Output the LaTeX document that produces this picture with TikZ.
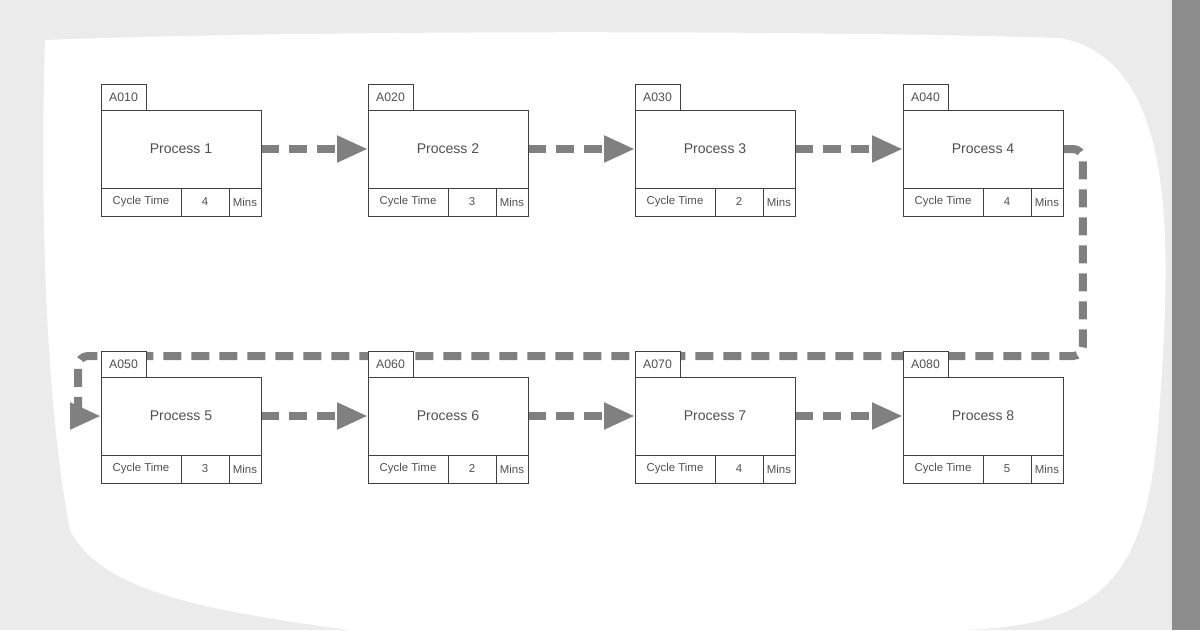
\documentclass[tikz,border=0pt]{standalone}
\usepackage{fontspec}
\setmainfont{Liberation Sans}
\usetikzlibrary{positioning,arrows.meta,backgrounds}
\definecolor{linkgray}{HTML}{808080}
\definecolor{txtgray}{HTML}{505050}
\tikzset{
  mainbox/.style={draw=black!75,fill=white,minimum width=3.2cm,minimum height=1.56cm,inner sep=0pt,outer sep=0pt,font=\fontsize{8}{10}\selectfont,text=txtgray},
  tagbox/.style={draw=black!75,fill=white,minimum width=0.9cm,minimum height=0.52cm,inner sep=0pt,outer sep=0pt,anchor=south west,font=\fontsize{7}{8}\selectfont,text=txtgray},
  cellbox/.style={draw=black!75,fill=white,minimum height=0.56cm,inner sep=0pt,outer sep=0pt,anchor=north west,font=\fontsize{6.5}{8}\selectfont,text=txtgray},
  flow/.style={draw=linkgray,line width=0.16cm,dash pattern=on 0.36cm off 0.2cm,-{Triangle[length=0.62cm,width=0.5cm]}}
}
\begin{document}
\begin{tikzpicture}[x=0.02cm,y=-0.02cm]
\useasboundingbox (0,0) rectangle (1200,630);
% process boxes
\foreach \i/\x/\y/\t in {1/181/149/4,2/448/149/3,3/715/149/2,4/983/149/4,
                         5/181/416/3,6/448/416/2,7/715/416/4,8/983/416/5}{
  \node[mainbox] (p\i) at (\x,\y) {Process \i};
  \node[tagbox] (tag\i) at (p\i.north west) {A0\i0};
  \node[cellbox,minimum width=1.6cm] (ct\i) at (p\i.south west) {Cycle Time};
  \node[cellbox,minimum width=0.96cm] (val\i) at (ct\i.north east) {\t};
  \node[cellbox,minimum width=0.64cm] (unit\i) at (val\i.north east) {Mins};
}
\begin{scope}[on background layer]
% backdrop
\fill[black!8] (0,0) rectangle (1200,630);
\fill[black!45] (1172,0) rectangle (1200,630);
\fill[white] (45,40) .. controls (300,30) and (800,30) .. (1060,38)
  .. controls (1180,60) and (1170,250) .. (1160,400)
  .. controls (1150,560) and (1120,630) .. (950,630)
  -- (350,630) .. controls (200,610) and (100,590) .. (70,530)
  .. controls (45,400) and (40,200) .. (45,40) -- cycle;
% connectors
\foreach \a/\b in {1/2,2/3,3/4,5/6,6/7,7/8}
  \draw[flow] (p\a) -- (p\b);
\draw[flow,rounded corners=0.2cm] (p4.east) -- ++(20,0) -- ++(0,207) -- (78,356) -- (78,416) -- (p5.west);
\end{scope}
\end{tikzpicture}
\end{document}
